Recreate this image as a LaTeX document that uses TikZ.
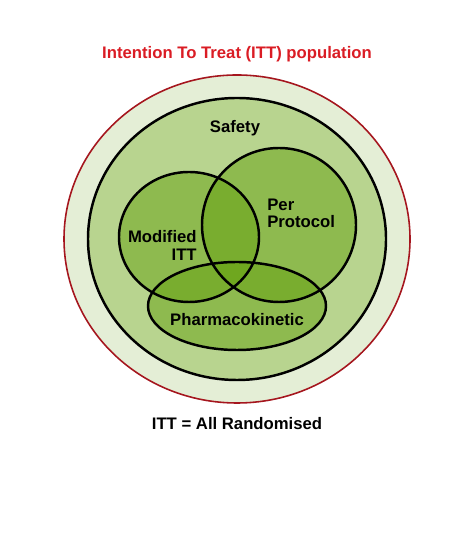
\documentclass[tikz,border=0pt]{standalone}
\usepackage{fontspec}
\setmainfont{Liberation Sans}
\usepackage{xcolor}
\usepackage{tikz}
\usetikzlibrary{shapes.geometric, positioning}
\definecolor{titlered}{RGB}{218,28,36}
\definecolor{ringred}{RGB}{165,22,30}
\definecolor{ittfill}{RGB}{228,238,214}
\definecolor{safetyfill}{RGB}{184,212,143}
\definecolor{subsetfill}{RGB}{102,162,17}
\tikzset
{
    region/.style={ellipse, inner sep=0pt, outer sep=0pt}, % every population is an ellipse
    outline/.style={ellipse, draw=black, line width=1.4pt, inner sep=0pt, outer sep=0pt},
    subset/.style={region, fill=subsetfill, fill opacity=0.5},
    lbl/.style={font=\fontsize{9.5}{9.9}\selectfont\bfseries, text=black, inner sep=0pt},
}

\begin{document}
\begin{tikzpicture}
    \useasboundingbox (0,0) rectangle (9.48,10.98);

    % Populações externas
    \node[region, fill=ittfill, draw=ringred, line width=0.9pt, minimum width=6.92cm, minimum height=6.56cm] (itt) at (4.74,6.20) {};
    \node[region, fill=safetyfill, minimum width=5.96cm, minimum height=5.64cm] (safety) at (itt.center) {};

    % Subconjuntos (preenchimento)
    \node[subset, minimum width=2.80cm, minimum height=2.60cm] (mitt) at (3.78,6.24) {};
    \node[subset, minimum width=3.08cm, minimum height=3.08cm] (pp) at (5.58,6.48) {};
    \node[subset, minimum width=3.56cm, minimum height=1.76cm] (pk) at (4.74,4.86) {};

    % Contornos
    \node[outline, minimum width=5.96cm, minimum height=5.64cm] (safetyline) at (safety) {};
    \node[outline, minimum width=2.80cm, minimum height=2.60cm] (mittline) at (mitt) {};
    \node[outline, minimum width=3.08cm, minimum height=3.08cm] (ppline) at (pp) {};
    \node[outline, minimum width=3.56cm, minimum height=1.76cm] (pkline) at (pk) {};

    % Rótulos
    \node[lbl, text=titlered] (title) at (4.74,9.90) {Intention To Treat (ITT) population};
    \node[lbl] (safetylbl) at (4.70,8.42) {Safety};
    \node[lbl, anchor=west, align=left] (pplbl) at (5.34,6.71) {Per\\Protocol};
    \node[lbl, anchor=east, align=right] (mittlbl) at (3.94,6.07) {Modified\\ITT};
    \node[lbl] (pklbl) at (4.74,4.58) {Pharmacokinetic};
    \node[lbl] (note) at (4.74,2.50) {ITT = All Randomised};
\end{tikzpicture}
\end{document}
